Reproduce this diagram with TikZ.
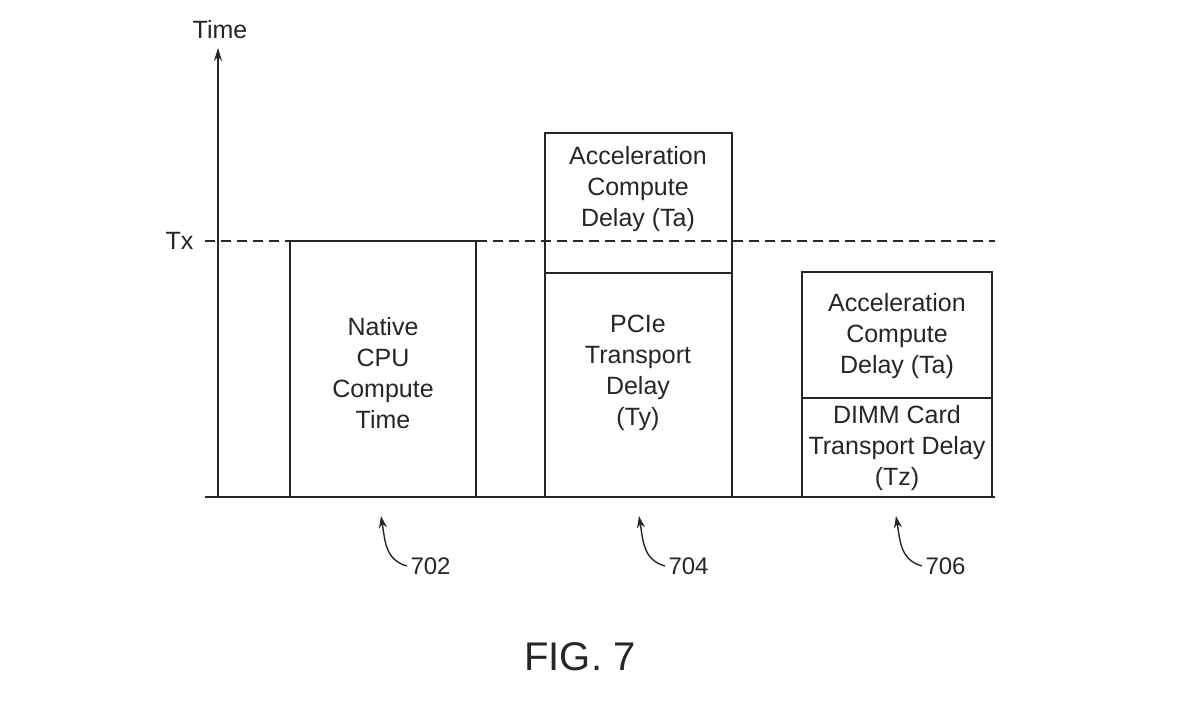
\documentclass[tikz,border=0pt]{standalone}
\usepackage{fontspec}
\setmainfont{Liberation Sans}
\usetikzlibrary{arrows.meta}
\begin{document}
\begin{tikzpicture}[x=1pt,y=-1pt,
  ln/.style={line width=1.8pt,draw=black!85},
  box/.style={ln},
  txt/.style={font=\fontsize{25}{31}\selectfont,align=center,text=black!85},
  ref/.style={font=\fontsize{24}{25}\selectfont,text=black!85},
  lead/.style={line width=1.4pt,draw=black!85,-{Stealth[length=12pt,width=8pt]}}]
\useasboundingbox (0,0) rectangle (1200,702);
% axes
\coordinate (o) at (218,497);
\coordinate (top) at (218,48);
\draw[ln,-{Stealth[length=13pt,width=8pt]}] (o) -- (top);
\node[txt,anchor=south] (time) at (220,42) {Time};
\coordinate (bl) at (205,497); \coordinate (br) at (995,497);
\draw[ln] (bl) -- (br);
\coordinate (dl) at (205,241); \coordinate (dr) at (995,241);
\draw[line width=1.4pt,draw=black!85,dash pattern=on 10pt off 6pt] (dl) -- (dr);
\node[txt,anchor=east] (tx) at (197,241) {Tx};
% boxes
\draw[box] (290,497) rectangle (476,241);
\node[txt] (n702) at (383,373) {Native\\CPU\\Compute\\Time};
\draw[box] (545,497) rectangle (732,133);
\draw[box] (545,273) -- (732,273);
\node[txt] (ta1) at (638,189) {Acceleration\\Compute\\Delay (Ta)};
\node[txt] (ty) at (638,373) {PCIe\\Transport\\Delay\\(Ty)};
\draw[box] (802,497) rectangle (992,272);
\draw[box] (802,398) -- (992,398);
\node[txt] (ta2) at (897,336) {Acceleration\\Compute\\Delay (Ta)};
\node[txt] (tz) at (897,448) {DIMM Card\\Transport Delay\\(Tz)};
% reference numerals
\node[ref,anchor=west] (r702) at (407,566) {702};
\node[ref,anchor=west] (r704) at (665,566) {704};
\node[ref,anchor=west] (r706) at (922,566) {706};
\draw[lead] (r702.west) .. controls (385,560) and (385,540) .. (381,516);
\draw[lead] (r704.west) .. controls (643,560) and (643,540) .. (639,516);
\draw[lead] (r706.west) .. controls (900,560) and (900,540) .. (896,516);
\node[font=\fontsize{40}{42}\selectfont,text=black!85] (fig) at (580,657) {FIG. 7};
\end{tikzpicture}
\end{document}
